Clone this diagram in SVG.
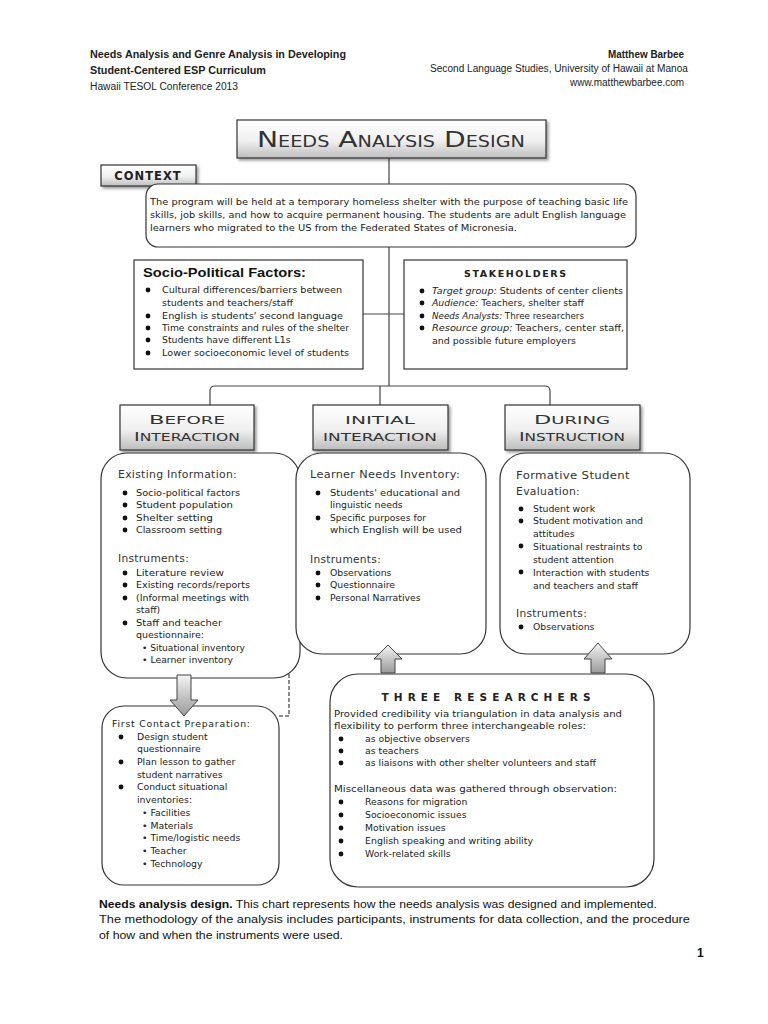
<svg xmlns="http://www.w3.org/2000/svg" width="768" height="1024" viewBox="0 0 768 1024">
<defs>
<linearGradient id="gBox" x1="0" y1="0" x2="0" y2="1">
<stop offset="0" stop-color="#ffffff"/>
<stop offset="0.55" stop-color="#f0f0f0"/>
<stop offset="1" stop-color="#bdbdbd"/>
</linearGradient>
<linearGradient id="gArrowV" x1="0" y1="0" x2="0" y2="1">
<stop offset="0" stop-color="#f4f4f4"/>
<stop offset="1" stop-color="#9a9a9a"/>
</linearGradient>
<filter id="shadow" x="-10%" y="-20%" width="125%" height="150%">
<feDropShadow dx="2" dy="2" stdDeviation="1.5" flood-color="#000" flood-opacity="0.4"/>
</filter>
<style>
.hdr{font-family:"Liberation Sans",Arial,sans-serif;fill:#222}
.hb{font-weight:bold;font-size:11.5px}
.hs{font-size:10px}
.t{font-family:"DejaVu Sans","Open Sans",sans-serif;font-size:9.3px;fill:#222}
.sec{font-family:"DejaVu Sans","Open Sans",sans-serif;font-size:11px;fill:#333;letter-spacing:0.3px}
.cap{font-family:"DejaVu Sans","Open Sans",sans-serif;fill:#333;text-anchor:middle}
.sc{font-variant:small-caps}
.spaced{font-family:"DejaVu Sans","Open Sans",sans-serif;font-weight:bold;fill:#222;text-anchor:middle}
.box{fill:#fff;stroke:#333;stroke-width:1.2}
.gbox{fill:url(#gBox);stroke:#333;stroke-width:1.2}
.conn{fill:none;stroke:#444;stroke-width:1.2}
.dash{fill:none;stroke:#666;stroke-width:1.5;stroke-dasharray:4,2}
.arrow{fill:url(#gArrowV);stroke:#444;stroke-width:1}
.cap2{font-family:"Liberation Sans",Arial,sans-serif;font-size:10.5px;fill:#111}
</style>
</defs>
<rect width="768" height="1024" fill="#fff"/>

<g id="page-header">
<text class="hdr hb" x="90" y="58" textLength="256" lengthAdjust="spacingAndGlyphs">Needs Analysis and Genre Analysis in Developing</text>
<text class="hdr hb" x="90" y="74" textLength="176" lengthAdjust="spacingAndGlyphs">Student-Centered ESP Curriculum</text>
<text class="hdr hs" x="90" y="90" textLength="148" lengthAdjust="spacingAndGlyphs">Hawaii TESOL Conference 2013</text>
<text class="hdr hb" x="684" y="58" text-anchor="end" textLength="76" lengthAdjust="spacingAndGlyphs">Matthew Barbee</text>
<text class="hdr hs" x="688" y="72" text-anchor="end" textLength="258" lengthAdjust="spacingAndGlyphs">Second Language Studies, University of Hawaii at Manoa</text>
<text class="hdr hs" x="684" y="86" text-anchor="end" textLength="114" lengthAdjust="spacingAndGlyphs">www.matthewbarbee.com</text>
</g>

<g id="connectors">
<path class="conn" d="M389 158 V184"/>
<path class="conn" d="M389 247 V386"/>
<path class="conn" d="M363 314 H404"/>
<path class="conn" d="M210 405 V391 Q210 386 215 386 H545 Q550 386 550 391 V405"/>
<path class="conn" d="M380 386 V405"/>
<path class="dash" d="M279 716 H289 V643 H300"/>
</g>

<g id="title">
<rect class="gbox" x="237" y="120" width="309" height="38" filter="url(#shadow)"/>
<text class="cap sc" x="391" y="147" font-size="22" textLength="268" lengthAdjust="spacingAndGlyphs">Needs Analysis Design</text>
</g>

<g id="context-label">
<rect class="gbox" x="101" y="165" width="95" height="21" filter="url(#shadow)"/>
<text x="148" y="180" text-anchor="middle" font-family="DejaVu Sans, sans-serif" font-weight="bold" font-size="11.5" fill="#222" letter-spacing="1">CONTEXT</text>
</g>

<g id="context">
<rect class="box" x="146" y="184" width="490" height="63" rx="12"/>
<text class="t" x="150" y="205" textLength="478" lengthAdjust="spacingAndGlyphs">The program will be held at a temporary homeless shelter with the purpose of teaching basic life</text>
<text class="t" x="150" y="218" textLength="476" lengthAdjust="spacingAndGlyphs">skills, job skills, and how to acquire permanent housing.  The students are adult English language</text>
<text class="t" x="150" y="231" textLength="367" lengthAdjust="spacingAndGlyphs">learners who migrated to the US from the Federated States of Micronesia.</text>
</g>

<g id="socio-political">
<rect class="box" x="134" y="260" width="229" height="109"/>
<text x="143" y="277" font-family="Liberation Sans, Arial, sans-serif" font-weight="bold" font-size="13" fill="#111" textLength="163" lengthAdjust="spacingAndGlyphs">Socio-Political Factors:</text>
<g fill="#111"><circle cx="148" cy="290" r="2.4"/><circle cx="148" cy="316" r="2.4"/><circle cx="148" cy="328" r="2.4"/><circle cx="148" cy="340" r="2.4"/><circle cx="148" cy="353" r="2.4"/></g>
<text class="t" x="162" y="293" textLength="180" lengthAdjust="spacingAndGlyphs">Cultural differences/barriers between</text>
<text class="t" x="162" y="306" textLength="131" lengthAdjust="spacingAndGlyphs">students and teachers/staff</text>
<text class="t" x="162" y="319" textLength="181" lengthAdjust="spacingAndGlyphs">English is students' second language</text>
<text class="t" x="162" y="331" textLength="187" lengthAdjust="spacingAndGlyphs">Time constraints and rules of the shelter</text>
<text class="t" x="162" y="343">Students have different L1s</text>
<text class="t" x="162" y="356" textLength="187" lengthAdjust="spacingAndGlyphs">Lower socioeconomic level of students</text>
</g>

<g id="stakeholders">
<rect class="box" x="404" y="260" width="223" height="109"/>
<text class="spaced" x="515" y="277" font-size="9.5" textLength="102" lengthAdjust="spacing">STAKEHOLDERS</text>
<g fill="#111"><circle cx="422" cy="291" r="2.4"/><circle cx="422" cy="303" r="2.4"/><circle cx="422" cy="316" r="2.4"/><circle cx="422" cy="328" r="2.4"/></g>
<text class="t" x="432" y="294" textLength="191" lengthAdjust="spacingAndGlyphs"><tspan font-style="italic">Target group:</tspan>  Students of center clients</text>
<text class="t" x="432" y="306" textLength="152" lengthAdjust="spacingAndGlyphs"><tspan font-style="italic">Audience:</tspan>  Teachers, shelter staff</text>
<text class="t" x="432" y="319" textLength="152" lengthAdjust="spacingAndGlyphs"><tspan font-style="italic">Needs Analysts:</tspan>  Three researchers</text>
<text class="t" x="432" y="331" textLength="192" lengthAdjust="spacingAndGlyphs"><tspan font-style="italic">Resource group:</tspan>  Teachers, center staff,</text>
<text class="t" x="432" y="344" textLength="144" lengthAdjust="spacingAndGlyphs">and possible future employers</text>
</g>

<g id="before-interaction">
<rect class="gbox" x="120" y="405" width="134" height="45" filter="url(#shadow)"/>
<text class="cap" x="187" y="424" textLength="76" lengthAdjust="spacingAndGlyphs"><tspan font-size="13">B</tspan><tspan font-size="10.5">EFORE</tspan></text>
<text class="cap" x="187" y="441" textLength="106" lengthAdjust="spacingAndGlyphs"><tspan font-size="13">I</tspan><tspan font-size="10.5">NTERACTION</tspan></text>
</g>

<g id="initial-interaction">
<rect class="gbox" x="313" y="405" width="135" height="45" filter="url(#shadow)"/>
<text class="cap" x="380" y="424" font-size="11" textLength="70" lengthAdjust="spacingAndGlyphs">INITIAL</text>
<text class="cap" x="380" y="441" font-size="11" textLength="114" lengthAdjust="spacingAndGlyphs">INTERACTION</text>
</g>

<g id="during-instruction">
<rect class="gbox" x="505" y="405" width="135" height="45" filter="url(#shadow)"/>
<text class="cap" x="572" y="424" textLength="76" lengthAdjust="spacingAndGlyphs"><tspan font-size="13">D</tspan><tspan font-size="10.5">URING</tspan></text>
<text class="cap" x="572" y="441" textLength="106" lengthAdjust="spacingAndGlyphs"><tspan font-size="13">I</tspan><tspan font-size="10.5">NSTRUCTION</tspan></text>
</g>

<g id="existing-information">
<rect class="box" x="101" y="453" width="199" height="225" rx="26"/>
<text class="sec" x="118" y="478" textLength="119" lengthAdjust="spacingAndGlyphs">Existing Information:</text>
<g fill="#111"><circle cx="125" cy="493" r="2.4"/><circle cx="125" cy="505" r="2.4"/><circle cx="125" cy="518" r="2.4"/><circle cx="125" cy="530" r="2.4"/><circle cx="125" cy="573" r="2.4"/><circle cx="125" cy="585" r="2.4"/><circle cx="125" cy="598" r="2.4"/><circle cx="125" cy="623" r="2.4"/></g>
<text class="t" x="136" y="496" textLength="104" lengthAdjust="spacingAndGlyphs">Socio-political factors</text>
<text class="t" x="136" y="508" textLength="97" lengthAdjust="spacingAndGlyphs">Student population</text>
<text class="t" x="136" y="521" textLength="77" lengthAdjust="spacingAndGlyphs">Shelter setting</text>
<text class="t" x="136" y="533" textLength="86" lengthAdjust="spacingAndGlyphs">Classroom setting</text>
<text class="sec" x="118" y="562" textLength="71" lengthAdjust="spacingAndGlyphs">Instruments:</text>
<text class="t" x="136" y="576" textLength="88" lengthAdjust="spacingAndGlyphs">Literature review</text>
<text class="t" x="136" y="588" textLength="114" lengthAdjust="spacingAndGlyphs">Existing records/reports</text>
<text class="t" x="136" y="601" textLength="113" lengthAdjust="spacingAndGlyphs">(Informal meetings with</text>
<text class="t" x="136" y="613">staff)</text>
<text class="t" x="136" y="626" textLength="86" lengthAdjust="spacingAndGlyphs">Staff and teacher</text>
<text class="t" x="136" y="638" textLength="68" lengthAdjust="spacingAndGlyphs">questionnaire:</text>
<text class="t" x="142" y="651" textLength="103" lengthAdjust="spacingAndGlyphs">• Situational inventory</text>
<text class="t" x="142" y="663" textLength="91" lengthAdjust="spacingAndGlyphs">• Learner inventory</text>
</g>

<g id="learner-needs-inventory">
<rect class="box" x="296" y="453" width="190" height="201" rx="26"/>
<text class="sec" x="310" y="478" textLength="150" lengthAdjust="spacingAndGlyphs">Learner Needs Inventory:</text>
<g fill="#111"><circle cx="318" cy="493" r="2.4"/><circle cx="318" cy="518" r="2.4"/><circle cx="318" cy="573" r="2.4"/><circle cx="318" cy="585" r="2.4"/><circle cx="318" cy="598" r="2.4"/></g>
<text class="t" x="330" y="496" textLength="130" lengthAdjust="spacingAndGlyphs">Students' educational and</text>
<text class="t" x="330" y="508">linguistic needs</text>
<text class="t" x="330" y="521" textLength="96" lengthAdjust="spacingAndGlyphs">Specific purposes for</text>
<text class="t" x="330" y="533" textLength="132" lengthAdjust="spacingAndGlyphs">which English will be used</text>
<text class="sec" x="310" y="563" textLength="71" lengthAdjust="spacingAndGlyphs">Instruments:</text>
<text class="t" x="330" y="576">Observations</text>
<text class="t" x="330" y="588">Questionnaire</text>
<text class="t" x="330" y="601">Personal Narratives</text>
</g>

<g id="formative-evaluation">
<rect class="box" x="500" y="453" width="190" height="201" rx="26"/>
<text class="sec" x="516" y="479" textLength="114" lengthAdjust="spacingAndGlyphs">Formative Student</text>
<text class="sec" x="516" y="495" textLength="64" lengthAdjust="spacingAndGlyphs">Evaluation:</text>
<g fill="#111"><circle cx="521" cy="509" r="2.4"/><circle cx="521" cy="521" r="2.4"/><circle cx="521" cy="546" r="2.4"/><circle cx="521" cy="572" r="2.4"/><circle cx="521" cy="627" r="2.4"/></g>
<text class="t" x="533" y="512">Student work</text>
<text class="t" x="533" y="524">Student motivation and</text>
<text class="t" x="533" y="537">attitudes</text>
<text class="t" x="533" y="550">Situational restraints to</text>
<text class="t" x="533" y="563">student attention</text>
<text class="t" x="533" y="576">Interaction with students</text>
<text class="t" x="533" y="589">and teachers and staff</text>
<text class="sec" x="516" y="617" textLength="71" lengthAdjust="spacingAndGlyphs">Instruments:</text>
<text class="t" x="533" y="630">Observations</text>
</g>

<g id="first-contact-preparation">
<rect class="box" x="102" y="706" width="177" height="179" rx="22"/>
<text class="t" x="112" y="727" textLength="138" lengthAdjust="spacing">First Contact Preparation:</text>
<g fill="#111"><circle cx="121" cy="737" r="2.4"/><circle cx="121" cy="762" r="2.4"/><circle cx="121" cy="787" r="2.4"/></g>
<text class="t" x="137" y="740">Design student</text>
<text class="t" x="137" y="752">questionnaire</text>
<text class="t" x="137" y="765">Plan lesson to gather</text>
<text class="t" x="137" y="778">student narratives</text>
<text class="t" x="137" y="790">Conduct situational</text>
<text class="t" x="137" y="803">inventories:</text>
<text class="t" x="142" y="816">• Facilities</text>
<text class="t" x="142" y="829">• Materials</text>
<text class="t" x="142" y="841">• Time/logistic needs</text>
<text class="t" x="142" y="854">• Teacher</text>
<text class="t" x="142" y="867">• Technology</text>
</g>

<g id="three-researchers">
<rect class="box" x="330" y="674" width="324" height="213" rx="28"/>
<text class="spaced" x="486" y="701" font-size="10.5" textLength="209" lengthAdjust="spacing">THREE RESEARCHERS</text>
<text class="t" x="334" y="717" textLength="288" lengthAdjust="spacingAndGlyphs">Provided credibility via triangulation in data analysis and</text>
<text class="t" x="334" y="729" textLength="252" lengthAdjust="spacingAndGlyphs">flexibility to perform three interchangeable roles:</text>
<g fill="#111"><circle cx="341" cy="739" r="2.4"/><circle cx="341" cy="751" r="2.4"/><circle cx="341" cy="763" r="2.4"/><circle cx="341" cy="802" r="2.4"/><circle cx="341" cy="815" r="2.4"/><circle cx="341" cy="828" r="2.4"/><circle cx="341" cy="841" r="2.4"/><circle cx="341" cy="854" r="2.4"/></g>
<text class="t" x="365" y="742">as objective observers</text>
<text class="t" x="365" y="754">as teachers</text>
<text class="t" x="365" y="766" textLength="231" lengthAdjust="spacingAndGlyphs">as liaisons with other shelter volunteers and staff</text>
<text class="t" x="334" y="792" textLength="283" lengthAdjust="spacingAndGlyphs">Miscellaneous data was gathered through observation:</text>
<text class="t" x="365" y="805">Reasons for migration</text>
<text class="t" x="365" y="818">Socioeconomic issues</text>
<text class="t" x="365" y="831">Motivation issues</text>
<text class="t" x="365" y="844" textLength="168" lengthAdjust="spacingAndGlyphs">English speaking and writing ability</text>
<text class="t" x="365" y="857">Work-related skills</text>
</g>

<g id="arrows">
<path class="arrow" d="M177 675 H191 V700 H198 L184 716 L170 700 H177 Z"/>
<path class="arrow" d="M381 673 V659 H374 L388 645 L402 659 H395 V673 Z"/>
<path class="arrow" d="M591 673 V659 H584 L598 643 L612 659 H605 V673 Z"/>
</g>

<g id="caption">
<text class="cap2" x="99" y="908" textLength="558" lengthAdjust="spacingAndGlyphs"><tspan font-weight="bold">Needs analysis design.</tspan>  This chart represents how the needs analysis was designed and implemented.</text>
<text class="cap2" x="99" y="923" textLength="591" lengthAdjust="spacingAndGlyphs">The methodology of the analysis includes participants, instruments for data collection, and the procedure</text>
<text class="cap2" x="99" y="939" textLength="244" lengthAdjust="spacingAndGlyphs">of how and when the instruments were used.</text>
<text x="697" y="957" font-family="Liberation Sans, Arial, sans-serif" font-weight="bold" font-size="12" fill="#111">1</text>
</g>
</svg>
